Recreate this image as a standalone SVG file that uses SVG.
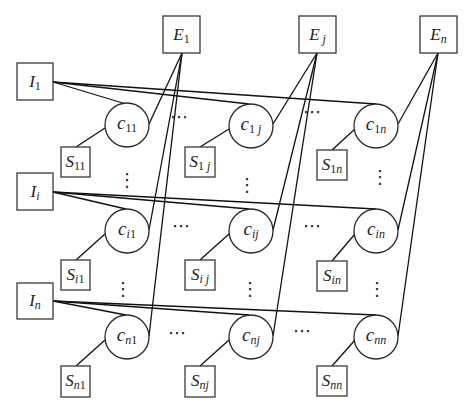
<svg xmlns="http://www.w3.org/2000/svg" width="474" height="413" viewBox="0 0 474 413">
<style>
.box{fill:#fff;stroke:#3a3a3a;stroke-width:1.3}
.cir{fill:#fff;stroke:#2a2a2a;stroke-width:1.3}
.ln{stroke:#111;stroke-width:1.3;fill:none}
.lb{font-family:"Liberation Serif",serif;font-size:17px;fill:#222;text-anchor:middle}
.cl{font-size:19px}
.it{font-style:italic}
.sb{font-size:12px}
.dt{font-family:"DejaVu Serif","DejaVu Sans",serif;font-size:18px;fill:#222;text-anchor:middle}
</style>
<rect width="474" height="413" fill="#fff"/>
<g id="connectors" class="ln">
<line x1="53" y1="82" x2="126" y2="104"/>
<line x1="53" y1="82" x2="249" y2="104"/>
<line x1="53" y1="82" x2="376" y2="104"/>
<line x1="53" y1="192" x2="126" y2="209"/>
<line x1="53" y1="192" x2="249" y2="209"/>
<line x1="53" y1="192" x2="376" y2="209"/>
<line x1="53" y1="301" x2="126" y2="315"/>
<line x1="53" y1="301" x2="249" y2="315"/>
<line x1="53" y1="301" x2="376" y2="315"/>
<line x1="182" y1="53" x2="149" y2="124"/>
<line x1="182" y1="53" x2="149" y2="230"/>
<line x1="182" y1="53" x2="149" y2="336"/>
<line x1="317" y1="53" x2="273" y2="124"/>
<line x1="317" y1="53" x2="273" y2="230"/>
<line x1="317" y1="53" x2="273" y2="336"/>
<line x1="438" y1="53" x2="398" y2="124"/>
<line x1="438" y1="53" x2="398" y2="230"/>
<line x1="438" y1="53" x2="398" y2="336"/>
<line x1="76" y1="147" x2="105" y2="128"/>
<line x1="200" y1="147" x2="229" y2="129"/>
<line x1="332" y1="150" x2="355" y2="129"/>
<line x1="76" y1="260" x2="105" y2="234"/>
<line x1="200" y1="260" x2="229" y2="234"/>
<line x1="332" y1="261" x2="355" y2="234"/>
<line x1="76" y1="366" x2="105" y2="340"/>
<line x1="200" y1="366" x2="229" y2="340"/>
<line x1="332" y1="366" x2="355" y2="340"/>
</g>
<g id="E1"><rect class="box" x="163" y="16" width="37" height="37"/><text class="lb" x="181.5" y="40"><tspan class="it">E</tspan><tspan class="sb" dy="3">1</tspan></text></g>
<g id="Ej"><rect class="box" x="299" y="16" width="37" height="37"/><text class="lb" x="317.5" y="40"><tspan class="it">E</tspan><tspan class="sb it" dy="3"> j</tspan></text></g>
<g id="En"><rect class="box" x="420" y="16" width="37" height="37"/><text class="lb" x="438.5" y="40"><tspan class="it">E</tspan><tspan class="sb it" dy="3">n</tspan></text></g>
<g id="I1"><rect class="box" x="17" y="63" width="36" height="37"/><text class="lb" x="35" y="87"><tspan class="it">I</tspan><tspan class="sb" dy="3">1</tspan></text></g>
<g id="Ii"><rect class="box" x="17" y="173" width="36" height="37"/><text class="lb" x="35" y="197"><tspan class="it">I</tspan><tspan class="sb it" dy="3">i</tspan></text></g>
<g id="In"><rect class="box" x="17" y="283" width="36" height="36"/><text class="lb" x="35" y="306"><tspan class="it">I</tspan><tspan class="sb it" dy="3">n</tspan></text></g>
<g id="c11"><circle class="cir" cx="127" cy="125" r="22"/><text class="lb cl" x="127" y="129"><tspan class="it">c</tspan><tspan class="sb" dy="3">11</tspan></text></g>
<g id="c1j"><circle class="cir" cx="251" cy="126" r="22"/><text class="lb cl" x="251" y="130"><tspan class="it">c</tspan><tspan class="sb" dy="3">1</tspan><tspan class="sb it"> j</tspan></text></g>
<g id="c1n"><circle class="cir" cx="376" cy="126" r="22"/><text class="lb cl" x="376" y="130"><tspan class="it">c</tspan><tspan class="sb" dy="3">1</tspan><tspan class="sb it">n</tspan></text></g>
<g id="ci1"><circle class="cir" cx="127" cy="231" r="22"/><text class="lb cl" x="127" y="235"><tspan class="it">c</tspan><tspan class="sb it" dy="3">i</tspan><tspan class="sb">1</tspan></text></g>
<g id="cij"><circle class="cir" cx="251" cy="231" r="22"/><text class="lb cl" x="251" y="235"><tspan class="it">c</tspan><tspan class="sb it" dy="3">ij</tspan></text></g>
<g id="cin"><circle class="cir" cx="376" cy="231" r="22"/><text class="lb cl" x="376" y="235"><tspan class="it">c</tspan><tspan class="sb it" dy="3">in</tspan></text></g>
<g id="cn1"><circle class="cir" cx="127" cy="337" r="22"/><text class="lb cl" x="127" y="341"><tspan class="it">c</tspan><tspan class="sb it" dy="3">n</tspan><tspan class="sb">1</tspan></text></g>
<g id="cnj"><circle class="cir" cx="251" cy="337" r="22"/><text class="lb cl" x="251" y="341"><tspan class="it">c</tspan><tspan class="sb it" dy="3">nj</tspan></text></g>
<g id="cnn"><circle class="cir" cx="376" cy="337" r="22"/><text class="lb cl" x="376" y="341"><tspan class="it">c</tspan><tspan class="sb it" dy="3">nn</tspan></text></g>
<g id="S11"><rect class="box" x="61" y="147" width="29" height="30"/><text class="lb" x="75.5" y="167"><tspan class="it">S</tspan><tspan class="sb" dy="3">11</tspan></text></g>
<g id="S1j"><rect class="box" x="185" y="147" width="30" height="30"/><text class="lb" x="200" y="167"><tspan class="it">S</tspan><tspan class="sb" dy="3">1</tspan><tspan class="sb it"> j</tspan></text></g>
<g id="S1n"><rect class="box" x="317" y="150" width="30" height="30"/><text class="lb" x="332" y="170"><tspan class="it">S</tspan><tspan class="sb" dy="3">1</tspan><tspan class="sb it">n</tspan></text></g>
<g id="Si1"><rect class="box" x="61" y="260" width="29" height="30"/><text class="lb" x="75.5" y="280"><tspan class="it">S</tspan><tspan class="sb it" dy="3">i</tspan><tspan class="sb">1</tspan></text></g>
<g id="Sij"><rect class="box" x="185" y="260" width="30" height="30"/><text class="lb" x="200" y="280"><tspan class="it">S</tspan><tspan class="sb it" dy="3">i j</tspan></text></g>
<g id="Sin"><rect class="box" x="317" y="261" width="30" height="30"/><text class="lb" x="332" y="281"><tspan class="it">S</tspan><tspan class="sb it" dy="3">in</tspan></text></g>
<g id="Sn1"><rect class="box" x="61" y="366" width="29" height="31"/><text class="lb" x="75.5" y="386"><tspan class="it">S</tspan><tspan class="sb it" dy="3">n</tspan><tspan class="sb">1</tspan></text></g>
<g id="Snj"><rect class="box" x="185" y="366" width="30" height="31"/><text class="lb" x="200" y="386"><tspan class="it">S</tspan><tspan class="sb it" dy="3">nj</tspan></text></g>
<g id="Snn"><rect class="box" x="317" y="366" width="30" height="30"/><text class="lb" x="332" y="386"><tspan class="it">S</tspan><tspan class="sb it" dy="3">nn</tspan></text></g>
<g id="ellipses" class="dt">
<text x="179" y="123">⋯</text>
<text x="312" y="118">⋯</text>
<text x="181" y="232">⋯</text>
<text x="312" y="232">⋯</text>
<text x="177" y="339">⋯</text>
<text x="302" y="337">⋯</text>
<text x="127" y="186">⋮</text>
<text x="247" y="191">⋮</text>
<text x="380" y="183">⋮</text>
<text x="123" y="295">⋮</text>
<text x="250" y="295">⋮</text>
<text x="377" y="295">⋮</text>
</g>
</svg>
